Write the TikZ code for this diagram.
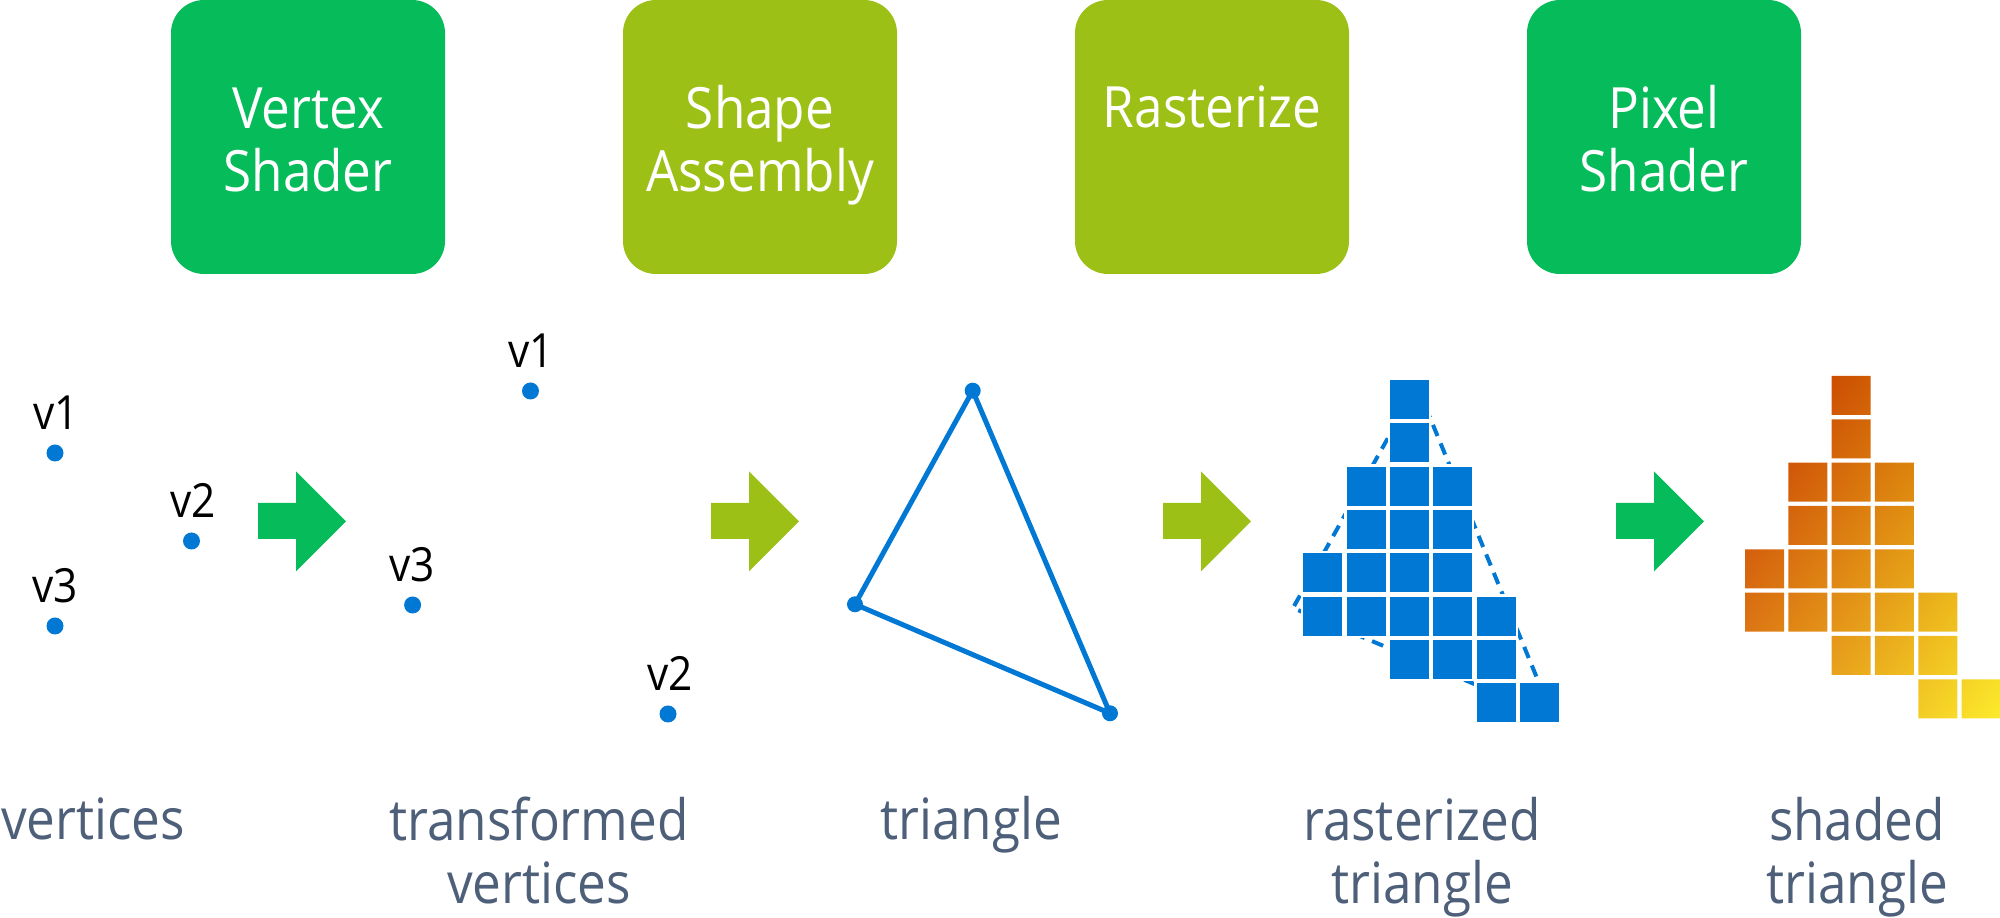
\documentclass[tikz,border=0pt]{standalone}
\usepackage{fontspec}
\usetikzlibrary{shadings}
\setmainfont[FakeStretch=0.9]{Open Sans}
\definecolor{vsgreen}{RGB}{5,187,90}
\definecolor{sagreen}{RGB}{157,192,22}
\definecolor{rblue}{RGB}{0,120,212}
\definecolor{lblgray}{RGB}{78,95,122}
\definecolor{shTL}{RGB}{196,46,0}
\definecolor{shTR}{RGB}{220,139,8}
\definecolor{shBL}{RGB}{228,142,26}
\definecolor{shBR}{RGB}{252,235,44}
\newcommand\blkarrow[2]{%
  \fill[#2] (#1,503) -- ({#1+38},503) -- ({#1+38},471.5) -- ({#1+88},521.5)
    -- ({#1+38},571.5) -- ({#1+38},539) -- (#1,539) -- cycle;}
\begin{document}
\begin{tikzpicture}[x=0.1mm, y=-0.1mm,
  stagebox/.style={rectangle, rounded corners=3.3mm, minimum width=27.4mm,
    minimum height=27.4mm, inner sep=0pt, draw=none},
  boxtext/.style={text=white, align=center, inner sep=0pt, anchor=base,
    font=\fontsize{16.2pt}{18.2pt}\selectfont},
  captext/.style={text=lblgray, align=center, inner sep=0pt, anchor=base,
    font=\fontsize{16.2pt}{18.2pt}\selectfont},
  vlabel/.style={text=black, inner sep=0pt, anchor=base,
    font=\fontsize{13.4pt}{16pt}\selectfont},
  vdot/.style={circle, fill=rblue, inner sep=0pt, minimum size=1.7mm},
  tdot/.style={circle, fill=rblue, inner sep=0pt, minimum size=1.6mm},
  edge/.style={rblue, line width=0.5mm, line join=round},
  dashedge/.style={rblue, line width=0.4mm, dash pattern=on 1.2mm off 0.8mm},
  bluecell/.style={fill=rblue, draw=white, line width=0.217mm}
]
\useasboundingbox (0,0) rectangle (2000,918);

% stage boxes
\node[stagebox, fill=vsgreen] (vs) at (308,137) {};
\node[stagebox, fill=sagreen] (sa) at (760,137) {};
\node[stagebox, fill=sagreen] (rs) at (1212,137) {};
\node[stagebox, fill=vsgreen] (ps) at (1664,137) {};
% base anchor of a two-line node is the baseline of its last line
\node[boxtext] (vst) at (308,192) {Vertex\\Shader};
\node[boxtext] (sat) at (760,192) {Shape\\Assembly};
\node[boxtext] (rst) at (1212,128) {Rasterize};
\node[boxtext] (pst) at (1664,192) {Pixel\\Shader};

% block arrows
\blkarrow{258}{vsgreen}
\blkarrow{711}{sagreen}
\blkarrow{1163}{sagreen}
\blkarrow{1616}{vsgreen}

% panel 1: vertices
\node[vdot] (a1) at (55,453) {};
\node[vdot] (a2) at (191.5,541) {};
\node[vdot] (a3) at (55,626) {};
\node[vlabel] (la1) at (56,430) {v1};
\node[vlabel] (la2) at (193,518) {v2};
\node[vlabel] (la3) at (55,603) {v3};

% panel 2: transformed vertices
\node[vdot] (b1) at (530.5,391) {};
\node[vdot] (b2) at (668,714) {};
\node[vdot] (b3) at (412.6,605) {};
\node[vlabel] (lb1) at (531,368) {v1};
\node[vlabel] (lb2) at (670,691) {v2};
\node[vlabel] (lb3) at (412,582) {v3};

% panel 3: triangle
\node[tdot] (t1) at (972.7,390.7) {};
\node[tdot] (t2) at (855,604.3) {};
\node[tdot] (t3) at (1110,713.3) {};
\draw[edge] (t1.center) -- (t2.center) -- (t3.center) -- cycle;

% panel 4: rasterized triangle
\coordinate (r1) at (1417,386);
\coordinate (r2) at (1293,608);
\coordinate (r3) at (1553,717);
\draw[dashedge] (r1) -- (r2) -- (r3) -- cycle;
\foreach \c/\r in {2/0,2/1,1/2,2/2,3/2,1/3,2/3,3/3,0/4,1/4,2/4,3/4,
                   0/5,1/5,2/5,3/5,4/5,2/6,3/6,4/6,4/7,5/7}
  \filldraw[bluecell] ({1322.8+43.33*\c-20.6},{399.5+43.33*\r-20.6})
     rectangle +(41.2,41.2);

% panel 5: shaded triangle
\begin{scope}
  \clip foreach \c/\r in {2/0,2/1,1/2,2/2,3/2,1/3,2/3,3/3,0/4,1/4,2/4,3/4,
                   0/5,1/5,2/5,3/5,4/5,2/6,3/6,4/6,4/7,5/7}
     { ({1745+43.33*\c},{376+43.33*\r}) rectangle +(39,39) };
  \shade[upper left=shTL, upper right=shTR, lower left=shBL, lower right=shBR]
     (1745,376) rectangle (2001,719);
\end{scope}

% captions
\node[captext] (c1) at (93,840) {vertices};
\node[captext] (c2) at (539,904) {transformed\\vertices};
\node[captext] (c3) at (971,840) {triangle};
\node[captext] (c4) at (1422,904) {rasterized\\triangle};
\node[captext] (c5) at (1857,904) {shaded\\triangle};
\end{tikzpicture}
\end{document}
